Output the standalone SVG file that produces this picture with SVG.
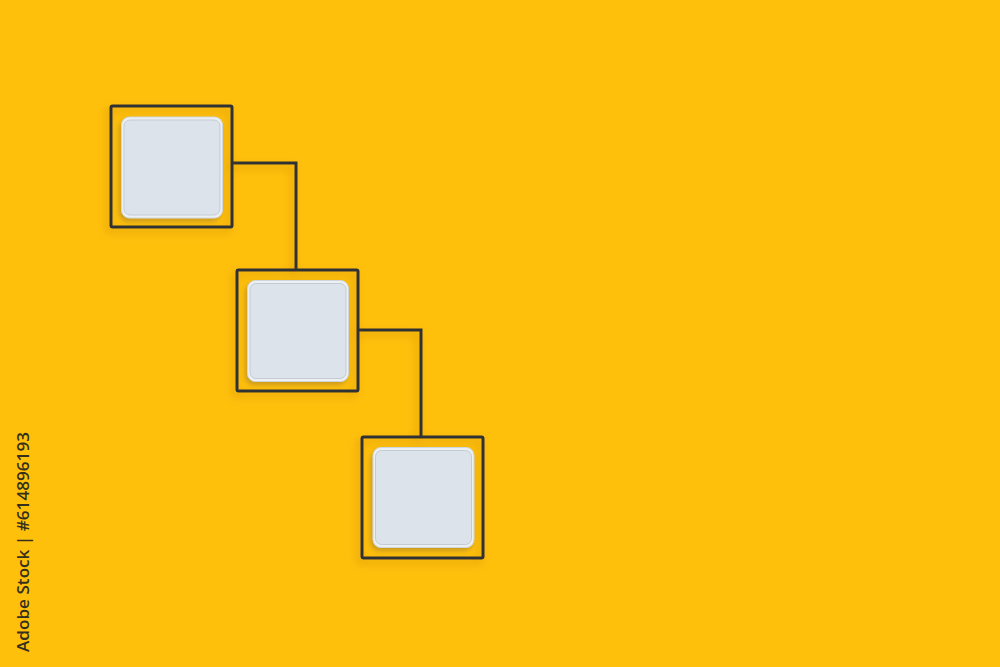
<svg xmlns="http://www.w3.org/2000/svg" width="1000" height="667" viewBox="0 0 1000 667">
  <defs>
    <style>
      .frame { fill: none; stroke: #2e3034; stroke-width: 3; stroke-linejoin: round; }
      .wire { fill: none; stroke: #2e3034; stroke-width: 3; stroke-linejoin: miter; }
      .tile-outer { fill: #edf0f3; stroke: #cfd6dd; stroke-width: 1; }
      .tile-inner { fill: #dce3ea; stroke: #c3cbd4; stroke-width: 1; }
      .credit { font-family: "Open Sans", "Liberation Sans", Arial, sans-serif; font-size: 17px; font-weight: 600; fill: #352f1e; }
    </style>
    <filter id="shadow" x="-30%" y="-30%" width="160%" height="160%">
      <feDropShadow dx="-3" dy="4" stdDeviation="4" flood-color="#b07000" flood-opacity="0.45"/>
    </filter>
    <filter id="tshadow" x="-30%" y="-30%" width="160%" height="160%">
      <feDropShadow dx="-2" dy="3" stdDeviation="2.5" flood-color="#8a6a30" flood-opacity="0.45"/>
    </filter>
  </defs>
  <rect width="1000" height="667" fill="#ffc00c"/>

  <g id="connectors" filter="url(#shadow)">
    <polyline class="wire" points="232,163 296,163 296,270"/>
    <polyline class="wire" points="358,330 421,330 421,437"/>
  </g>

  <g id="node1">
    <rect class="frame" x="111" y="106" width="121" height="121" rx="1.5" filter="url(#shadow)"/>
    <g filter="url(#tshadow)">
      <rect class="tile-outer" x="121.5" y="117" width="101" height="101" rx="8"/>
      <rect class="tile-inner" x="124" y="120" width="96" height="95" rx="6"/>
    </g>
  </g>

  <g id="node2">
    <rect class="frame" x="237" y="270" width="121" height="121" rx="1.5" filter="url(#shadow)"/>
    <g filter="url(#tshadow)">
      <rect class="tile-outer" x="247.5" y="280.5" width="101" height="101" rx="8"/>
      <rect class="tile-inner" x="250" y="283.5" width="96" height="95" rx="6"/>
    </g>
  </g>

  <g id="node3">
    <rect class="frame" x="362" y="437" width="121" height="121" rx="1.5" filter="url(#shadow)"/>
    <g filter="url(#tshadow)">
      <rect class="tile-outer" x="373" y="447.5" width="101" height="100" rx="8"/>
      <rect class="tile-inner" x="375.5" y="450.5" width="96" height="94" rx="6"/>
    </g>
  </g>

  <text class="credit" transform="translate(29,542) rotate(-90)" text-anchor="middle" textLength="220" lengthAdjust="spacingAndGlyphs">Adobe Stock | #614896193</text>
</svg>
